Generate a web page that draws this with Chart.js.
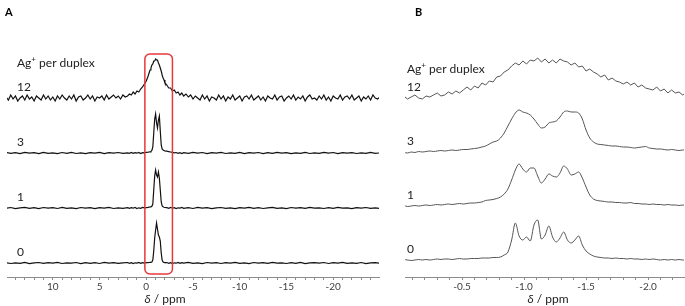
<!DOCTYPE html>
<html>
<head>
<meta charset="utf-8">
<script src="https://cdn.jsdelivr.net/npm/chart.js@4.4.1/dist/chart.umd.min.js"></script>
<style>
  body { margin: 0; background: #fff; width: 685px; height: 306px; overflow: hidden; position: relative; }
  canvas { position: absolute; top: 0; }
  #chartA { left: 0; }
  #chartB { left: 390px; }
</style>
</head>
<body>
<canvas id="chartA" width="390" height="306"></canvas>
<canvas id="chartB" width="295" height="306"></canvas>
<script>
// Ag+ per duplex, top trace first
const ratios = ["12", "3", "1", "0"];

// panel A: chemical shift (ppm) grids and intensities above each baseline
const ppmA12 = [15, 14.75, 14.5, 14.25, 14, 13.75, 13.5, 13.25, 13, 12.75, 12.5, 12.25, 12, 11.75, 11.5, 11.25, 11, 10.75, 10.5, 10.25,
  10, 9.75, 9.5, 9.25, 9, 8.75, 8.5, 8.25, 8, 7.75, 7.5, 7.25, 7, 6.75, 6.5, 6.25, 6, 5.75, 5.5, 5.25,
  5, 4.75, 4.5, 4.25, 4, 3.75, 3.5, 3.25, 3, 2.75, 2.5, 2.25,
  2, 1.8, 1.6, 1.4, 1.2, 1.0, 0.8, 0.6, 0.4, 0.2, 0, -0.2,
  -0.3, -0.4, -0.5, -0.6, -0.7, -0.8, -0.9, -1.0, -1.1, -1.2, -1.3, -1.4, -1.5, -1.6, -1.7, -1.8, -1.9, -2.0,
  -2.2, -2.4, -2.6, -2.8, -3.0, -3.2, -3.4, -3.6, -3.8, -4.0,
  -4.25, -4.5, -4.75, -5, -5.25, -5.5, -5.75, -6, -6.25, -6.5, -6.75, -7, -7.25, -7.5, -7.75, -8, -8.25, -8.5, -8.75, -9,
  -9.25, -9.5, -9.75, -10, -10.25, -10.5, -10.75, -11, -11.25, -11.5, -11.75, -12, -12.25, -12.5, -12.75, -13, -13.25, -13.5, -13.75, -14,
  -14.25, -14.5, -14.75, -15, -15.25, -15.5, -15.75, -16, -16.25, -16.5, -16.75, -17, -17.25, -17.5, -17.75, -18, -18.25, -18.5, -18.75, -19,
  -19.25, -19.5, -19.75, -20, -20.25, -20.5, -20.75, -21, -21.25, -21.5, -21.75, -22, -22.25, -22.5, -22.75, -23, -23.25, -23.5, -23.75, -24,
  -24.25, -24.5, -24.75, -25];

const ag12A = [1, -2, 3, -1, 2, -3, 0, 2, -2, 3, -1, 1, -3, 2, 0, -2, 3, -1, 2, -2,
  1, -3, 2, -1, 3, 0, -2, 2, -1, 3, -3, 1, 2, -2, 0, 3, -1, 2, -3, 1,
  0, 2, -2, 3, -1, 1, 3, 0, 2, -1, 3, 1,
  2, 4, 3, 6, 4, 7, 6, 9, 11, 14, 17, 22,
  25, 28, 30, 33, 34, 37, 37, 39, 38, 38, 35, 33, 30, 27, 23, 20, 18, 15,
  13, 10, 10, 7, 8, 5, 6, 3, 5, 2,
  4, 1, 3, -1, 2, 0, -2, 3, -1, 2, -3, 1, 0, -2, 3, -1, 2, -3, 1, -1,
  3, -2, 0, 2, -3, 1, 2, -1, 3, -2, 0, 2, -2, 1, -3, 2, 0, -1, 3, -2,
  1, 2, -3, 0, 2, -1, 3, -2, 1, -1, 2, -3, 1, 3, -1, 0, -2, 2, -1, 3,
  -2, 1, -3, 2, 0, -1, 3, -2, 1, 2, -1, 3, -2, 0, 2, -3, 1, -1, 2, -2,
  3, 0, -1, 1];

const ppmA = [15, 14.5, 14, 13.5, 13, 12.5, 12, 11.5, 11, 10.5, 10, 9.5, 9, 8.5, 8, 7.5, 7, 6.5, 6, 5.5, 5, 4.5, 4, 3.5, 3, 2.5, 2,
  1.8, 1.6, 1.4, 1.2, 1.0, 0.8, 0.6, 0.4, 0.2, 0, -0.2,
  -0.3, -0.4, -0.5, -0.6, -0.7, -0.8, -0.9, -1.0, -1.1, -1.2, -1.3, -1.4, -1.5, -1.6, -1.7, -1.8, -1.9, -2.0,
  -2.2, -2.4, -2.6, -2.8, -3.0, -3.2, -3.4, -3.6, -3.8, -4.0,
  -4.5, -5, -5.5, -6, -6.5, -7, -7.5, -8, -8.5, -9, -9.5, -10, -10.5, -11, -11.5, -12, -12.5, -13, -13.5, -14,
  -14.5, -15, -15.5, -16, -16.5, -17, -17.5, -18, -18.5, -19, -19.5, -20, -20.5, -21, -21.5, -22, -22.5, -23, -23.5, -24, -24.5, -25];

const ag3A = [0.5, -0.4, 0.3, -0.7, 0.6, -0.2, 0.4, -0.6, 0.7, -0.3, 0.2, -0.6, 0.5, -0.4, 0.7, -0.5, 0.1, -0.6, 0.4, -0.2, 0.6, -0.7, 0.3, -0.1, 0.5, -0.4, 0.2,
  -0.3, 0.5, -0.4, 0.3, -0.2, 0.6, -0.5, 0.4, 0.2, 0.6, 0.8,
  1, 1.2, 1.6, 2.5, 6, 20, 34, 39, 30, 25, 33, 37, 22, 8, 4, 3, 2.5, 2,
  1.8, 1.4, 1, 0.6, 0.2, 0.5, -0.3, 0.4, -0.5, 0.3,
  -0.4, 0.6, -0.2, 0.5, -0.7, 0.3, -0.1, 0.6, -0.5, 0.2, -0.3, 0.7, -0.6, 0.4, -0.2, 0.5, -0.7, 0.3, -0.4, 0.6,
  -0.1, 0.4, -0.6, 0.2, -0.3, 0.7, -0.5, 0.1, -0.4, 0.6, -0.2, 0.5, -0.7, 0.3, -0.1, 0.4, -0.5, 0.2, -0.3, 0.6, -0.4, 0.1];

const ag1A = [-0.3, 0.5, -0.6, 0.2, 0.6, -0.4, 0.3, -0.7, 0.5, -0.1, 0.4, -0.5, 0.6, -0.3, 0.2, -0.6, 0.5, -0.2, 0.3, -0.7, 0.4, -0.1, 0.6, -0.5, 0.2, -0.3, 0.4,
  -0.4, 0.3, -0.2, 0.5, -0.5, 0.2, -0.3, 0.5, 0.1, 0.4, 0.6,
  0.8, 1, 1.3, 1.8, 4, 18, 32, 38, 33, 31, 36, 30, 18, 6, 2, 1.2, 0.8, 0.5,
  0.3, -0.3, 0.5, -0.2, 0.4, -0.5, 0.2, -0.1, 0.5, -0.4,
  0.3, -0.5, 0.6, -0.2, 0.4, -0.6, 0.1, 0.5, -0.3, 0.2, -0.7, 0.4, -0.1, 0.6, -0.4, 0.3, -0.5, 0.2, 0.6, -0.3,
  0.1, -0.6, 0.5, -0.2, 0.3, -0.4, 0.7, -0.1, 0.2, -0.5, 0.4, -0.3, 0.6, -0.2, 0.1, -0.6, 0.4, -0.1, 0.5, -0.3, 0.2, -0.4];

const ag0A = [0.4, -0.5, 0.2, -0.3, 0.6, -0.6, 0.1, 0.5, -0.4, 0.3, -0.2, 0.6, -0.5, 0.2, -0.1, 0.5, -0.6, 0.3, -0.3, 0.4, -0.5, 0.6, -0.2, 0.3, -0.4, 0.1, 0.5,
  -0.3, 0.4, -0.5, 0.2, -0.1, 0.5, -0.4, 0.3, -0.2, 0.4, 0.3,
  0.5, 0.6, 0.8, 1, 3, 12, 25, 33, 40, 34, 28, 26, 22, 10, 3, 1, 0.6, 0.3,
  0.5, -0.3, 0.4, -0.5, 0.2, -0.2, 0.5, -0.4, 0.3, -0.1,
  0.6, -0.4, 0.2, -0.6, 0.5, -0.1, 0.3, -0.5, 0.4, -0.2, 0.6, -0.3, 0.1, -0.6, 0.5, -0.2, 0.3, -0.4, 0.6, -0.1,
  0.2, -0.5, 0.4, -0.3, 0.6, -0.6, 0.1, 0.4, -0.2, 0.5, -0.5, 0.3, -0.1, 0.6, -0.4, 0.2, -0.3, 0.5, -0.6, 0.1, 0.4, -0.2];

// panel B: zoom on -0.0 .. -2.3 ppm
const ppmB = [0, -0.03, -0.06, -0.09, -0.12, -0.15, -0.18, -0.21, -0.24, -0.27, -0.3, -0.33, -0.36, -0.39, -0.42, -0.45,
  -0.48, -0.51, -0.54, -0.57, -0.6, -0.63, -0.66, -0.69, -0.72, -0.75, -0.78, -0.81, -0.84, -0.87, -0.9, -0.93,
  -0.96, -0.99, -1.02, -1.05, -1.08, -1.11, -1.14, -1.17, -1.2, -1.23, -1.26, -1.29, -1.32, -1.35, -1.38, -1.41,
  -1.44, -1.47, -1.5, -1.53, -1.56, -1.59, -1.62, -1.65, -1.68, -1.71, -1.74, -1.77, -1.8, -1.83, -1.86, -1.89,
  -1.92, -1.95, -1.98, -2.01, -2.04, -2.07, -2.1, -2.13, -2.16, -2.19, -2.22, -2.25, -2.28, -2.31];

const ag12B = [0, 2, -1, 1, 3, 0, -1, 2, 1, 3, 5, 2, 3, 6, 4, 7, 5, 8, 11, 8,
  12, 10, 15, 13, 17, 16, 21, 22, 26, 28, 32, 35, 33, 37, 34, 38, 37, 40, 36, 39,
  35, 38, 35, 39, 37, 36, 33, 35, 31, 32, 27, 29, 26, 24, 21, 23, 18, 20, 17, 16,
  14, 16, 13, 15, 11, 13, 10, 9, 8, 11, 7, 9, 5, 8, 5, 6, 3, 6];

const ag3B = [-1, -0.5, -1, 0, -0.5, 0.5, 0, 0.5, 1, 0.5, 1, 1.5, 1, 1.5, 2, 1.5, 2, 2.5, 2.5, 3,
  3.5, 4, 5, 6, 8, 10, 11, 14, 19, 26, 33, 39, 42, 40, 39, 37, 33, 28, 24, 25,
  29, 30, 31, 35, 40, 41, 40, 40, 39, 33, 22, 14, 10, 8, 7.5, 7, 6.5, 6, 6, 5.5,
  5, 5, 4.5, 4, 4.5, 5, 5.5, 4, 3.5, 3, 3, 2.5, 2, 2.5, 2, 1.5, 2, 2];

const ag1B = [0, 0.5, -0.5, 0, 0.5, 0, 0.5, 1, 0.5, 1, 1.5, 1, 1.5, 2, 1.5, 2, 2.5, 2, 2.5, 3,
  3, 3.5, 4, 5.5, 6, 6.5, 7.5, 9, 12, 17, 26, 36, 42, 37, 34, 38, 38, 30, 23, 27,
  32, 30, 29, 33, 40, 37, 31, 32, 34, 28, 19, 11, 7, 5.5, 5, 4.5, 4, 4, 3.5, 3.5,
  3, 3, 3.5, 2.5, 2.5, 2, 2, 1.5, 2, 1.5, 1.5, 1, 1.5, 1, 1, 0.5, 1, 0.5];

const ag0B = [0, 0.5, 0, -0.5, 0, 0.5, 0, 0.5, 0, 0.5, 1, 0.5, 1, 1, 0.5, 1, 1.5, 1, 1, 1.5,
  1.5, 1.5, 2, 2, 2, 2.5, 2.5, 3, 5, 8, 20, 37, 24, 20, 23, 19, 35, 40, 21, 25,
  34, 23, 18, 22, 28, 20, 17, 20, 24, 15, 9, 6, 4, 3, 2.5, 2, 2, 1.5, 2, 1.5,
  1.5, 1, 1.5, 1, 1, 0.5, 1, 0.5, 1, 0.5, 0, 0.5, 0, 0.5, 0, 0.5, 0, 0];

const FONT = "Lato, 'Open Sans', sans-serif";

// list: [xs, values, lineWidth, smooth] per trace, top trace first
function traces(list, base, step, color) {
  return list.map(([xs, vals, width, smooth], k) => ({
    data: xs.map((p, i) => ({ x: p, y: base + (list.length - 1 - k) * step + vals[i] })),
    borderColor: color,
    borderWidth: width,
    pointRadius: 0,
    tension: 0,
    cubicInterpolationMode: smooth ? "monotone" : "default",
  }));
}

function drawAg(ctx, x, y) {
  ctx.font = "12px " + FONT;
  ctx.textBaseline = "middle";
  ctx.textAlign = "left";
  ctx.fillText("Ag", x, y);
  let w = ctx.measureText("Ag").width;
  ctx.font = "8px " + FONT;
  ctx.fillText("+", x + w, y - 4);
  w += ctx.measureText("+").width;
  ctx.font = "12px " + FONT;
  ctx.fillText(" per duplex", x + w, y);
}

function drawAxisTitle(ctx, cx, y) {
  ctx.textBaseline = "middle";
  ctx.textAlign = "left";
  ctx.font = "italic 12px " + FONT;
  const w1 = ctx.measureText("δ").width;
  ctx.font = "12px " + FONT;
  const w2 = ctx.measureText(" / ppm").width;
  const x0 = cx - (w1 + w2) / 2;
  ctx.font = "italic 12px " + FONT;
  ctx.fillText("δ", x0, y);
  ctx.font = "12px " + FONT;
  ctx.fillText(" / ppm", x0 + w1, y);
}

const panelText = {
  id: "panelText",
  afterDraw(chart, args, o) {
    const ctx = chart.ctx;
    const ys = chart.scales.y;
    ctx.save();
    ctx.fillStyle = "#000";
    ctx.font = "bold 11px " + FONT;
    ctx.textBaseline = "middle";
    ctx.fillText(o.letter, o.letterX, 12);
    ctx.fillStyle = "#222";
    drawAg(ctx, o.labelX, o.agY);
    ctx.font = "12px " + FONT;
    ratios.forEach((r, k) => {
      const base = o.base + (ratios.length - 1 - k) * o.step;
      ctx.fillText(r, o.labelX, ys.getPixelForValue(base) - 11);
    });
    drawAxisTitle(ctx, o.titleX, 299);
    if (o.box) {
      const xs = chart.scales.x;
      const x1 = xs.getPixelForValue(o.box[0]);
      const x2 = xs.getPixelForValue(o.box[1]);
      const y1 = ys.getPixelForValue(o.box[2]);
      const y2 = ys.getPixelForValue(o.box[3]);
      ctx.strokeStyle = "#e8383d";
      ctx.lineWidth = 1.5;
      ctx.beginPath();
      ctx.roundRect(x1, y1, x2 - x1, y2 - y1, 5);
      ctx.stroke();
    }
    ctx.restore();
  },
};

function xAxis(min, max, step, fmt) {
  return {
    type: "linear",
    reverse: true,
    min: min,
    max: max,
    afterFit: (s) => { s.height = 29; },
    ticks: {
      stepSize: step,
      includeBounds: false,
      autoSkip: false,
      maxRotation: 0,
      padding: 1,
      color: "#404040",
      font: { family: FONT, size: 10 },
      callback: fmt,
    },
    grid: { drawOnChartArea: false, drawTicks: true, tickLength: 3, color: "#8c8c8c" },
    border: { color: "#8c8c8c" },
  };
}

new Chart(document.getElementById("chartA"), {
  type: "line",
  data: {
    datasets: traces([
      [ppmA12, ag12A, 1.2, false],
      [ppmA, ag3A, 1.2, false],
      [ppmA, ag1A, 1.2, false],
      [ppmA, ag0A, 1.2, false],
    ], 14, 55, "#111"),
  },
  options: {
    responsive: false,
    animation: false,
    layout: { padding: { left: 7, right: 11, top: 17, bottom: 0 } },
    plugins: {
      legend: { display: false },
      tooltip: { enabled: false },
      panelText: { letter: "A", letterX: 5, labelX: 17, agY: 63, base: 14, step: 55, titleX: 165, box: [0.15, -2.8, 223, 3] },
    },
    scales: {
      x: xAxis(-24.9, 14.9, 1, (v) => (Math.round(v) % 5 === 0 ? String(Math.round(v)) : "")),
      y: { display: false, min: 0, max: 260 },
    },
  },
  plugins: [panelText],
});

new Chart(document.getElementById("chartB"), {
  type: "line",
  data: {
    datasets: traces([
      [ppmB, ag12B, 1, false],
      [ppmB, ag3B, 1, true],
      [ppmB, ag1B, 1, true],
      [ppmB, ag0B, 1, true],
    ], 17, 54, "#555"),
  },
  options: {
    responsive: false,
    animation: false,
    layout: { padding: { left: 15, right: 1, top: 17, bottom: 0 } },
    plugins: {
      legend: { display: false },
      tooltip: { enabled: false },
      panelText: { letter: "B", letterX: 25, labelX: 17, agY: 69, base: 17, step: 54, titleX: 158 },
    },
    scales: {
      x: xAxis(-2.29, -0.04, 0.1, (v) => {
        const t = Math.round(v * 10);
        return t % 5 === 0 ? (t / 10).toFixed(1) : "";
      }),
      y: { display: false, min: 0, max: 260 },
    },
  },
  plugins: [panelText],
});
</script>
</body>
</html>
